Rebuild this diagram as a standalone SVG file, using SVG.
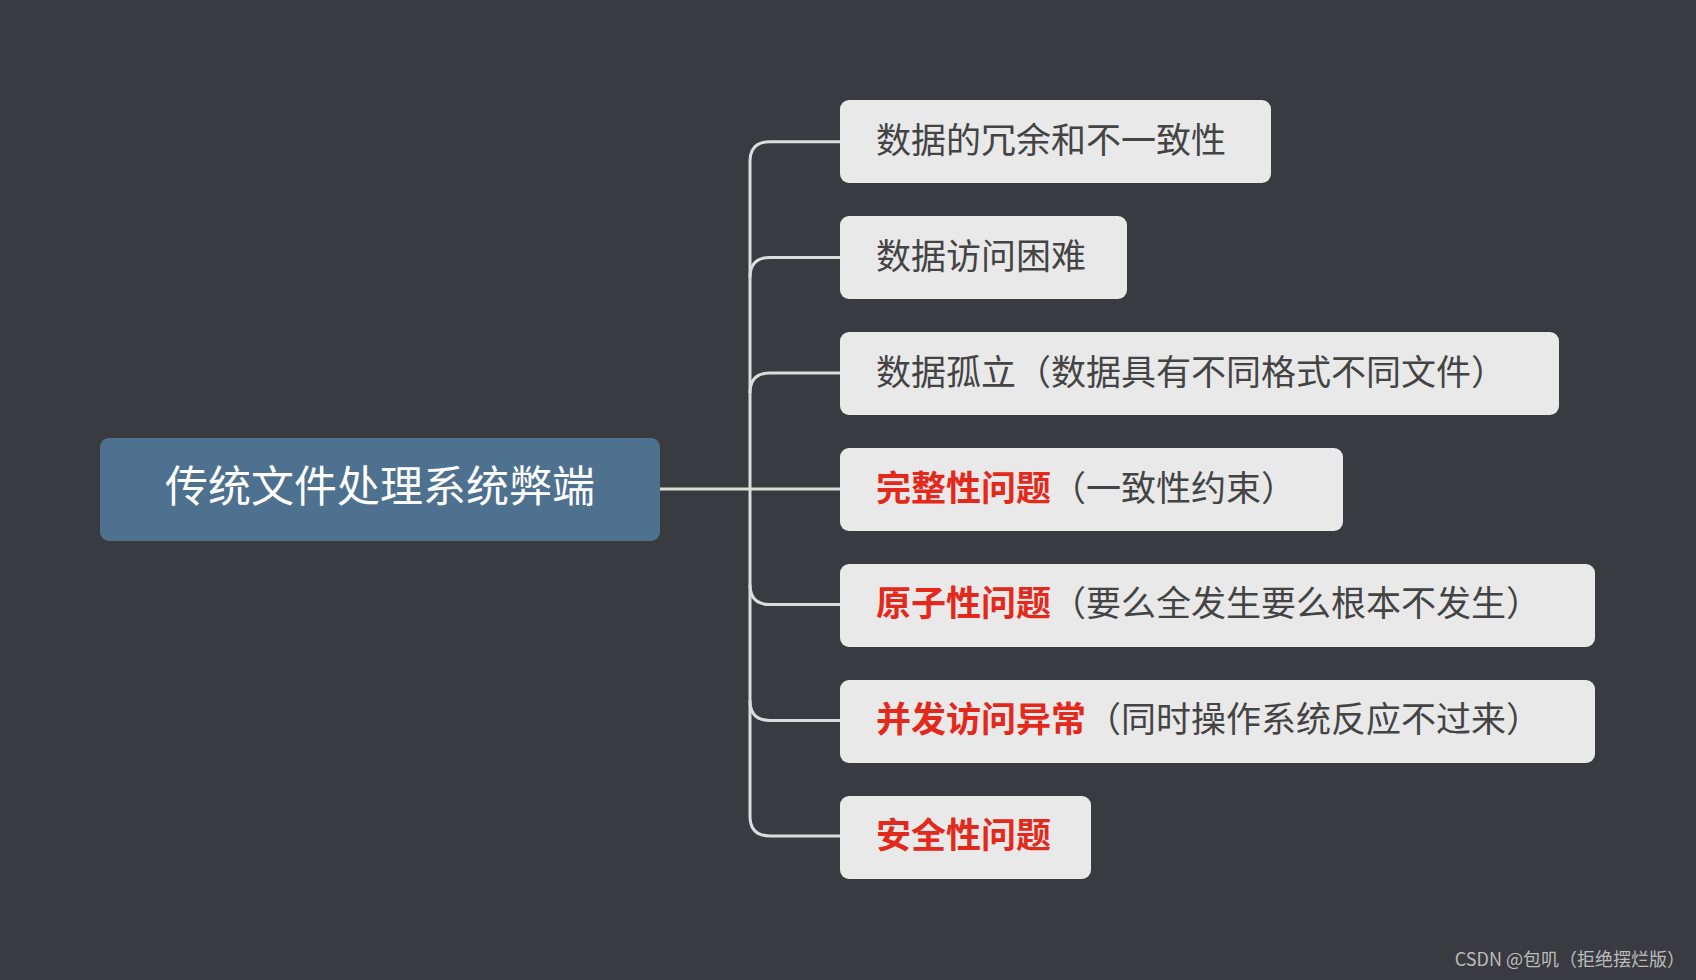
<svg xmlns="http://www.w3.org/2000/svg" width="1696" height="980" viewBox="0 0 1696 980">
<style>
.b{fill:#e9e9ea}
.t{font-family:"Noto Sans CJK SC","Noto Sans",sans-serif;font-size:35px;fill:#444}
.r{fill:#e2291c;font-weight:bold}
.c{fill:none;stroke:#dcdcdc;stroke-width:3}
</style>
<rect width="1696" height="980" fill="#3a3b41"/>
<g id="connectors" class="c">
<path d="M660 489H840"/>
<path d="M840 141.7H770Q750 141.7 750 161.7V816Q750 836 770 836H840"/>
<path d="M840 257.4H770Q750 257.4 750 277.4"/>
<path d="M840 373H770Q750 373 750 393"/>
<path d="M840 604.6H770Q750 604.6 750 584.6"/>
<path d="M840 720.4H770Q750 720.4 750 700.4"/>
</g>
<g id="root"><rect x="100" y="438" width="560" height="103" rx="9" fill="#4e718f"/>
<text x="380" y="502" text-anchor="middle" font-family="Noto Sans CJK SC,sans-serif" font-size="43" fill="#fff">传统文件处理系统弊端</text></g>
<g id="n1"><rect class="b" x="840" y="100" width="431" height="83" rx="9"/><text class="t" x="876" y="153">数据的冗余和不一致性</text></g>
<g id="n2"><rect class="b" x="840" y="216" width="287" height="83" rx="9"/><text class="t" x="876" y="269">数据访问困难</text></g>
<g id="n3"><rect class="b" x="840" y="332" width="719" height="83" rx="9"/><text class="t" x="876" y="385">数据孤立（数据具有不同格式不同文件）</text></g>
<g id="n4"><rect class="b" x="840" y="448" width="503" height="83" rx="9"/><text class="t" x="876" y="501"><tspan class="r">完整性问题</tspan>（一致性约束）</text></g>
<g id="n5"><rect class="b" x="840" y="564" width="755" height="83" rx="9"/><text class="t" x="876" y="616"><tspan class="r">原子性问题</tspan>（要么全发生要么根本不发生）</text></g>
<g id="n6"><rect class="b" x="840" y="680" width="755" height="83" rx="9"/><text class="t" x="876" y="732"><tspan class="r">并发访问异常</tspan>（同时操作系统反应不过来）</text></g>
<g id="n7"><rect class="b" x="840" y="796" width="251" height="83" rx="9"/><text class="t" x="876" y="848"><tspan class="r">安全性问题</tspan></text></g>
<text x="1685" y="966" text-anchor="end" font-family="Noto Sans CJK SC,sans-serif" font-size="18" fill="#bbb">CSDN @包叽（拒绝摆烂版）</text>
</svg>
